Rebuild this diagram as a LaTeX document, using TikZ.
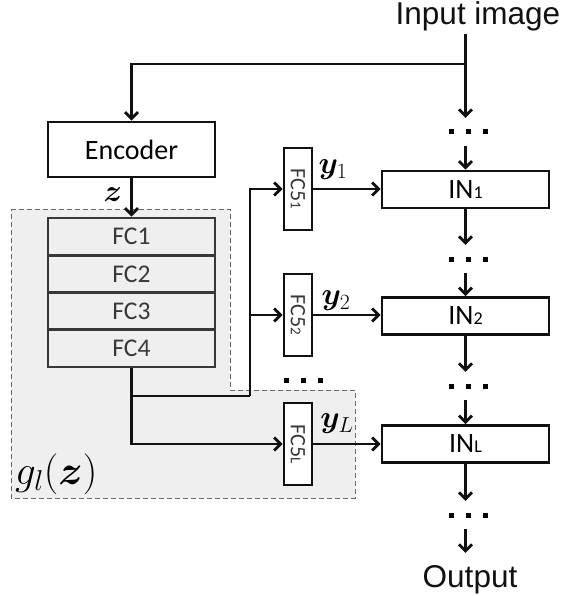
\RequirePackage{fix-cm}
\documentclass[tikz,border=0pt]{standalone}
\usepackage{amsmath,bm}
\usepackage{fontspec}
\setmainfont{Carlito}
\newfontfamily\arialf{Liberation Sans}
\usetikzlibrary{arrows.meta}
\definecolor{ink}{HTML}{111111}
\definecolor{fcink}{HTML}{383838}
\definecolor{regfill}{HTML}{EFEFEF}
\definecolor{regdraw}{HTML}{666666}
\newcommand\threedots{\rule{5pt}{5pt}\hspace{12pt}\rule{5pt}{5pt}\hspace{12pt}\rule{5pt}{5pt}}
\begin{document}
\begin{tikzpicture}[x=1pt,y=-1pt,
  line/.style={draw=ink, line width=2.8pt},
  arr/.style={line, -{Straight Barb[length=6.5pt,width=13pt]}},
  box/.style={draw=ink, line width=2.9pt, inner sep=0pt, fill=white},
  inbox/.style={box, minimum width=167pt, minimum height=37pt, font=\fontsize{28}{30}\selectfont},
  fcfive/.style={box, minimum width=28pt, minimum height=82pt, font=\fontsize{22}{23}\selectfont, text=fcink},
  fcbox/.style={draw=fcink, line width=2.8pt, inner sep=0pt, minimum width=167pt, minimum height=37.25pt, text=fcink, font=\fontsize{25.5}{27}\selectfont},
  dotrow/.style={inner sep=0pt, minimum height=28pt, minimum width=40pt},
  ylab/.style={inner sep=0pt, font=\fontsize{31}{33}\selectfont},
  bigtext/.style={font=\arialf\fontsize{31.5}{33}\selectfont, text=ink}
]
\useasboundingbox (0,0) rectangle (563,596);

% shaded region g_l(z)
\filldraw[fill=regfill, draw=regdraw, line width=0.9pt, dash pattern=on 5pt off 3pt]
  (11,209) -- (230,209) -- (230,390) -- (355,390) -- (355,498) -- (11,498) -- cycle;

% nodes
\node[bigtext, anchor=base, inner sep=2pt] (inp) at (478,25) {Input image};
\node[box, minimum width=167pt, minimum height=55pt, font=\fontsize{28}{30}\selectfont] (enc) at (131.5,149.5) {Encoder};

\node[fcbox] (fc1) at (131.5,236.6) {FC1};
\node[fcbox] (fc2) at (131.5,273.9) {FC2};
\node[fcbox] (fc3) at (131.5,311.1) {FC3};
\node[fcbox] (fc4) at (131.5,348.4) {FC4};

\node[ylab] (zl) at (113,195) {$\bm{z}$};

\node[fcfive] (f51) at (298,189) {\rotatebox{-90}{FC5{\fontsize{15}{15}\selectfont 1}}};
\node[fcfive] (f52) at (298,315) {\rotatebox{-90}{FC5{\fontsize{15}{15}\selectfont 2}}};
\node[fcfive] (f5L) at (298,444) {\rotatebox{-90}{FC5{\fontsize{15}{15}\selectfont L}}};

\node[ylab] (y1) at (333,170) {$\bm{y}_1$};
\node[ylab] (y2) at (336,301) {$\bm{y}_2$};
\node[ylab] (yL) at (337,424) {$\bm{y}_L$};

\node[inbox] (in1) at (465.5,189.5) {IN{\fontsize{18}{18}\selectfont 1}};
\node[inbox] (in2) at (465.5,316) {IN{\fontsize{18}{18}\selectfont 2}};
\node[inbox] (inL) at (465.5,444) {IN{\fontsize{18}{18}\selectfont L}};

\node[dotrow] (d1) at (468,132) {\threedots};
\node[dotrow] (d2) at (468,259) {\threedots};
\node[dotrow] (d3) at (468,386) {\threedots};
\node[dotrow] (d4) at (468,515) {\threedots};
\node[dotrow] (dfc) at (303,380) {\threedots};

\node[bigtext, anchor=base, inner sep=0pt] (out) at (470,587) {Output};
\node[anchor=base west, inner sep=0pt, font=\fontsize{41}{43}\selectfont] (gl) at (15,484) {$g_l(\bm{z})$};

% connectors
\coordinate (split) at (465.5,64);
\coordinate (br) at (131.5,396);
\coordinate (bx) at (250,396);

\draw[line] (inp.south -| in1.north) -- (split);
\draw[arr] (split) -- (d1.north -| in1.north);
\draw[arr] (split) -| (enc.north);
\draw[arr] (enc.south) -- (fc1.north);

\draw[arr] (fc4.south) |- (f5L.west);
\draw[line] (br) -- (bx);
\draw[arr] (bx) |- (f51.west);
\draw[arr] (bx |- f52.west) -- (f52.west);

\draw[arr] (f51.east) -- (f51.east -| in1.west);
\draw[arr] (f52.east) -- (f52.east -| in2.west);
\draw[arr] (f5L.east) -- (f5L.east -| inL.west);

\draw[arr] (d1.south -| in1.north) -- (in1.north);
\draw[arr] (in1.south) -- (d2.north -| in1.south);
\draw[arr] (d2.south -| in2.north) -- (in2.north);
\draw[arr] (in2.south) -- (d3.north -| in2.south);
\draw[arr] (d3.south -| inL.north) -- (inL.north);
\draw[arr] (inL.south) -- (d4.north -| inL.south);
\draw[arr, shorten >=12pt] (d4.south -| inL.south) -- (inL.south |- out.north);
\end{tikzpicture}
\end{document}
